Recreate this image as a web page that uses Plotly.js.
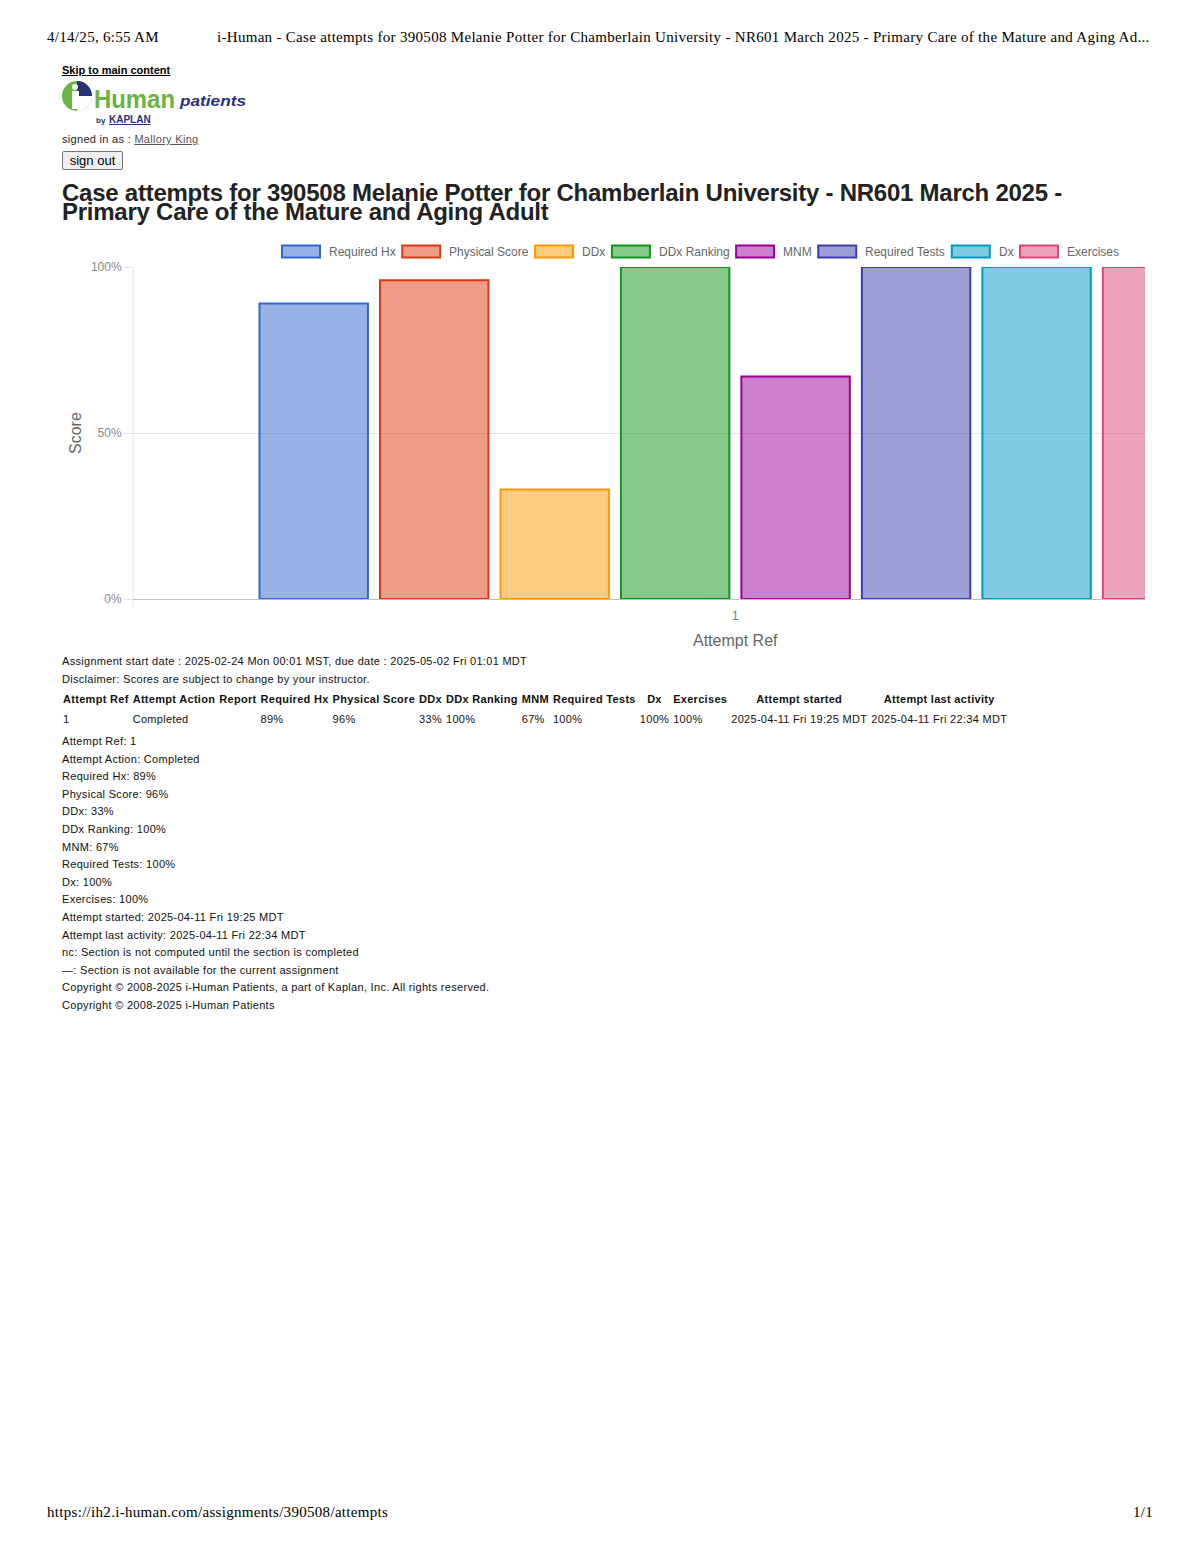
<!DOCTYPE html>
<html>
<head>
<meta charset="utf-8">
<script src="https://cdn.plot.ly/plotly-3.0.1.min.js"></script>
<style>
  html, body { margin: 0; padding: 0; background: #fff; }
  body { width: 1200px; height: 1553px; position: relative; overflow: hidden; font-family: "Liberation Sans", Arial, sans-serif; color: #111; }
  .abs { position: absolute; }
  .pr { font-family: "Liberation Serif", "Times New Roman", serif; font-size: 15px; color: #000; letter-spacing: 0.3px; white-space: nowrap; }
  #skip { left: 62px; top: 64px; font-size: 11px; font-weight: bold; text-decoration: underline; color: #000; }
  #signed { left: 62px; top: 133px; font-size: 11px; color: #222; letter-spacing: 0.3px; }
  #signed a { color: #555; text-decoration: underline; }
  #signout { left: 62px; top: 151px; width: 59px; height: 17px; border: 1px solid #767676; border-radius: 2px; background: #efefef; font-size: 13px; line-height: 17px; text-align: center; color: #000; }
  #h1 { left: 62px; top: 183px; width: 1070px; font-size: 24px; font-weight: bold; line-height: 19px; color: #222; margin: 0; letter-spacing: -0.25px; }
  #chart { left: 0; top: 225px; width: 1200px; height: 440px; }
  .txt { font-size: 11px; line-height: 17.6px; color: #111; white-space: nowrap; letter-spacing: 0.3px; }
  #tbl { left: 60px; top: 688px; border-collapse: separate; border-spacing: 2px; font-size: 11px; color: #111; letter-spacing: 0.3px; }
  #tbl th, #tbl td { padding: 3px 1px; white-space: nowrap; }
  #tbl th { font-weight: bold; text-align: center; }
  #tbl td { text-align: left; }
</style>
</head>
<body>
<div class="abs pr" style="left:47px; top:29px;">4/14/25, 6:55 AM</div>
<div class="abs pr" style="left:217px; top:29px;">i-Human - Case attempts for 390508 Melanie Potter for Chamberlain University - NR601 March 2025 - Primary Care of the Mature and Aging Ad...</div>

<div id="skip" class="abs">Skip to main content</div>
<svg class="abs" style="left:60px; top:79px;" width="200" height="48" viewBox="0 0 200 48">
  <circle cx="17" cy="17" r="15" fill="#6ab344"/>
  <path d="M17,17 L17,2 A15,15 0 0 1 32,17 Z" fill="#2b2f7a"/>
  <path d="M17,17 L32,17 A15,15 0 0 1 17,32 Z" fill="#ffffff"/>
  <rect x="12" y="12" width="7" height="18" fill="#ffffff"/>
  <circle cx="15" cy="8" r="3" fill="#ffffff"/>
  <text x="34" y="29" font-family="Liberation Sans, Arial" font-size="26" font-weight="bold" fill="#6ab344" textLength="81" lengthAdjust="spacingAndGlyphs">Human</text>
  <text x="120" y="27" font-family="Liberation Sans, Arial" font-size="15" font-weight="bold" font-style="italic" fill="#2b2f7a" textLength="66" lengthAdjust="spacingAndGlyphs">patients</text>
  <text x="36" y="44" font-family="Liberation Sans, Arial" font-size="8" font-weight="bold" fill="#2b2f7a">by</text>
  <text x="49" y="44" font-family="Liberation Sans, Arial" font-size="10" font-weight="bold" fill="#2b2f7a" text-decoration="underline">KAPLAN</text>
</svg>
<div id="signed" class="abs">signed in as : <a>Mallory King</a></div>
<div id="signout" class="abs">sign out</div>
<div id="h1" class="abs">Case attempts for 390508 Melanie Potter for Chamberlain University - NR601 March 2025 - Primary Care of the Mature and Aging Adult</div>

<div id="chart" class="abs"></div>

<div id="assign" class="abs txt" style="left:62px; top:653px;"></div>
<table id="tbl" class="abs"><thead><tr id="thead"></tr></thead><tbody><tr id="trow"></tr></tbody></table>
<div id="details" class="abs txt" style="left:62px; top:733px;"></div>

<div class="abs pr" style="left:47px; top:1504px;">https://ih2.i-human.com/assignments/390508/attempts</div>
<div class="abs pr" style="left:1133px; top:1504px;">1/1</div>

<script>
// ---------- data ----------
const categories = ['1'];
const seriesNames = ['Required Hx', 'Physical Score', 'DDx', 'DDx Ranking', 'MNM', 'Required Tests', 'Dx', 'Exercises'];
const seriesValues = [89, 96, 33, 100, 67, 100, 100, 100];
const yTickValues = [0, 50, 100];
const yTickLabels = ['0%', '50%', '100%'];
const xAxisTitle = 'Attempt Ref';
const yAxisTitle = 'Score';

const attemptRef = '1';
const attemptAction = 'Completed';
const attemptReport = '';
const attemptStarted = '2025-04-11 Fri 19:25 MDT';
const attemptLastActivity = '2025-04-11 Fri 22:34 MDT';
const assignmentLine = 'Assignment start date : 2025-02-24 Mon 00:01 MST, due date : 2025-05-02 Fri 01:01 MDT';
const disclaimerLine = 'Disclaimer: Scores are subject to change by your instructor.';
const footerLines = [
  'nc: Section is not computed until the section is completed',
  '\u2014: Section is not available for the current assignment',
  'Copyright \u00a9 2008-2025 i-Human Patients, a part of Kaplan, Inc. All rights reserved.',
  'Copyright \u00a9 2008-2025 i-Human Patients'
];

// ---------- styles ----------
const seriesColors = ['#3366CC', '#DC3912', '#FF9900', '#109618', '#990099', '#3B3EAC', '#0099C6', '#DD4477'];
function alpha(hex, a) {
  const r = parseInt(hex.slice(1, 3), 16), g = parseInt(hex.slice(3, 5), 16), b = parseInt(hex.slice(5, 7), 16);
  return 'rgba(' + r + ',' + g + ',' + b + ',' + a + ')';
}
const FONT = '"Liberation Sans", Arial, Helvetica, sans-serif';

// ---------- chart ----------
const traces = seriesNames.map((name, i) => ({
  type: 'bar',
  name: name,
  x: categories,
  y: [seriesValues[i]],
  marker: { color: alpha(seriesColors[i], 0.5), line: { color: seriesColors[i], width: 2 } },
  showlegend: false,
  hoverinfo: 'skip'
}));

const W = 1200, H = 440, ML = 133, MR = 55, MT = 42, MB = 66;
const PW = W - ML - MR, PH = H - MT - MB;
const px2paperX = px => (px - ML) / PW;
const py2paperY = py => (H - MB - py) / PH; // py relative to chart div top

// legend built from series names (Chart.js-like wide boxes)
const cvs = document.createElement('canvas').getContext('2d');
cvs.font = '12px ' + FONT;
const boxW = 40, boxH = 12, gapText = 6, itemPad = 7.5;
const widths = seriesNames.map(n => boxW + gapText + cvs.measureText(n).width);
const total = widths.reduce((a, b) => a + b, 0) + itemPad * (widths.length - 1);
let cursor = 699 - total / 2;
const legendCenterY = 251.5 - 225;
const shapes = [], annotations = [];
seriesNames.forEach((n, i) => {
  shapes.push({
    type: 'rect', xref: 'paper', yref: 'paper',
    x0: px2paperX(cursor + 1), x1: px2paperX(cursor + boxW - 1),
    y0: py2paperY(legendCenterY + boxH / 2), y1: py2paperY(legendCenterY - boxH / 2),
    fillcolor: alpha(seriesColors[i], 0.5), line: { color: seriesColors[i], width: 2 }
  });
  annotations.push({
    xref: 'paper', yref: 'paper', x: px2paperX(cursor + boxW + gapText), y: py2paperY(legendCenterY),
    xanchor: 'left', yanchor: 'middle', showarrow: false, text: n,
    font: { family: FONT, size: 12, color: '#666' }
  });
  cursor += widths[i] + itemPad;
});
// y-axis line extending slightly below the plot (Chart.js tick mark)
shapes.push({ type: 'line', xref: 'paper', yref: 'paper', x0: 0, x1: 0, y0: -8 / PH, y1: 1, line: { color: 'rgba(0,0,0,0.1)', width: 1 } });
annotations.push({
  xref: 'x', yref: 'paper', x: 0, y: 0, yshift: -41, showarrow: false, text: xAxisTitle,
  xanchor: 'center', yanchor: 'middle', font: { family: FONT, size: 16, color: '#666' }
});
annotations.push({
  xref: 'paper', yref: 'paper', x: px2paperX(75), y: 0.5, showarrow: false, text: yAxisTitle, textangle: -90,
  xanchor: 'center', yanchor: 'middle', font: { family: FONT, size: 16, color: '#666' }
});

const layout = {
  width: W, height: H,
  margin: { l: ML, r: MR, t: MT, b: MB, pad: 0 },
  paper_bgcolor: 'rgba(0,0,0,0)', plot_bgcolor: 'rgba(0,0,0,0)',
  barmode: 'group', bargap: 0.2, bargroupgap: 0.1,
  showlegend: false,
  font: { family: FONT, size: 12, color: '#666' },
  xaxis: {
    type: 'category', range: [-0.5, 0.34], showgrid: false, zeroline: false, showline: false,
    ticks: 'outside', ticklen: 6, tickcolor: 'rgba(0,0,0,0)', tickfont: { family: FONT, size: 12, color: '#777' },
    fixedrange: true
  },
  yaxis: {
    range: [0, 100], tickmode: 'array', tickvals: yTickValues, ticktext: yTickLabels,
    showgrid: true, gridcolor: 'rgba(0,0,0,0.1)', gridwidth: 1,
    zeroline: true, zerolinecolor: 'rgba(0,0,0,0.25)', zerolinewidth: 1,
    ticks: 'outside', ticklen: 8, tickcolor: 'rgba(0,0,0,0.1)',
    tickfont: { family: FONT, size: 12, color: '#888' }, showline: false, fixedrange: true
  },
  shapes: shapes,
  annotations: annotations
};
Plotly.newPlot('chart', traces, layout, { staticPlot: true, displayModeBar: false });

// ---------- text blocks ----------
document.getElementById('assign').innerHTML = assignmentLine + '<br>' + disclaimerLine;
const headers = ['Attempt Ref', 'Attempt Action', 'Report'].concat(seriesNames, ['Attempt started', 'Attempt last activity']);
const rowVals = [attemptRef, attemptAction, attemptReport].concat(seriesValues.map(v => v + '%'), [attemptStarted, attemptLastActivity]);
document.getElementById('thead').innerHTML = headers.map(h => '<th>' + h + '</th>').join('');
document.getElementById('trow').innerHTML = rowVals.map(v => '<td>' + v + '</td>').join('');
const detailLines = ['Attempt Ref: ' + attemptRef, 'Attempt Action: ' + attemptAction]
  .concat(seriesNames.map((n, i) => n + ': ' + seriesValues[i] + '%'))
  .concat(['Attempt started: ' + attemptStarted, 'Attempt last activity: ' + attemptLastActivity])
  .concat(footerLines);
document.getElementById('details').innerHTML = detailLines.join('<br>');
</script>
</body>
</html>
